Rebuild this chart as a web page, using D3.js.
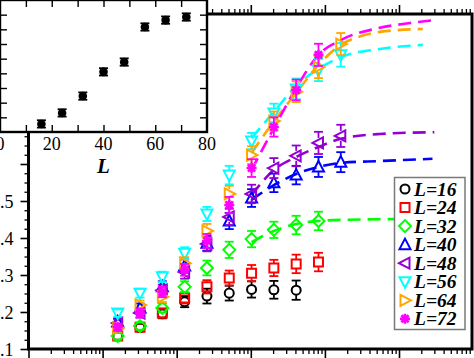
<!DOCTYPE html>
<html><head><meta charset="utf-8">
<script src="https://cdn.jsdelivr.net/npm/d3@7"></script>
<style>body{margin:0;background:#fff}svg{display:block}</style>
</head><body>
<svg id="c" width="474" height="358"></svg>
<script>
// ---------------- data ----------------
const times = [16, 32, 64, 128, 256, 512, 1024, 2048, 4096, 8192, 16384];
const labels = ["L=16", "L=24", "L=32", "L=40", "L=48", "L=56", "L=64", "L=72"];

const v16 = [0.135, 0.158, 0.195, 0.228, 0.243, 0.251, 0.261, 0.260, 0.259];
const e16 = [0.010, 0.010, 0.012, 0.015, 0.020, 0.020, 0.022, 0.024, 0.026];
const v24 = [0.135, 0.159, 0.197, 0.238, 0.268, 0.292, 0.305, 0.319, 0.330, 0.335];
const e24 = [0.010, 0.010, 0.012, 0.015, 0.018, 0.020, 0.022, 0.022, 0.025, 0.025];
const v32 = [0.135, 0.162, 0.211, 0.268, 0.319, 0.368, 0.397, 0.422, 0.435, 0.446];
const e32 = [0.010, 0.010, 0.012, 0.015, 0.020, 0.022, 0.022, 0.022, 0.025, 0.025];
const v40 = [0.173, 0.211, 0.268, 0.324, 0.386, 0.446, 0.508, 0.549, 0.570, 0.592, 0.605];
const e40 = [0.010, 0.012, 0.015, 0.018, 0.020, 0.022, 0.024, 0.025, 0.025, 0.027, 0.027];
const v48 = [0.170, 0.197, 0.259, 0.308, 0.384, 0.457, 0.519, 0.589, 0.622, 0.657, 0.676];
const e48 = [0.010, 0.012, 0.015, 0.018, 0.020, 0.022, 0.025, 0.027, 0.028, 0.030, 0.030];
const v56 = [0.197, 0.251, 0.295, 0.359, 0.465, 0.570, 0.662, 0.738, 0.803, 0.854, 0.895];
const e56 = [0.010, 0.012, 0.014, 0.016, 0.019, 0.025, 0.022, 0.025, 0.028, 0.030, 0.032];
const v64 = [0.157, 0.219, 0.241, 0.332, 0.419, 0.519, 0.624, 0.716, 0.795, 0.862, 0.924];
const e64 = [0.010, 0.012, 0.014, 0.016, 0.019, 0.022, 0.024, 0.026, 0.028, 0.030, 0.030];
const v72 = [0.159, 0.197, 0.254, 0.314, 0.392, 0.489, 0.589, 0.700, 0.800, 0.895];
const e72 = [0.010, 0.012, 0.014, 0.016, 0.019, 0.022, 0.024, 0.026, 0.028, 0.030];

// dashed fit curves: [time, value]
const fit32 = [[1024,0.389],[2048,0.419],[4096,0.438],[8192,0.446],[16384,0.449],[80000,0.451],[283000,0.452]];
const fit40 = [[1024,0.503],[2048,0.543],[4096,0.573],[8192,0.592],[16384,0.603],[55000,0.608],[283000,0.614]];
const fit48 = [[1024,0.516],[2048,0.584],[4096,0.619],[8192,0.646],[16384,0.668],[55000,0.681],[300000,0.686]];
const fit56 = [[1024,0.670],[2048,0.741],[4096,0.811],[8192,0.857],[16384,0.889],[55000,0.911],[210000,0.922]];
const fit64 = [[1024,0.630],[2048,0.715],[4096,0.792],[8192,0.868],[16384,0.922],[30000,0.945],[55000,0.957],[210000,0.965]];
const fit72 = [[1024,0.584],[2048,0.697],[4096,0.805],[8192,0.895],[16384,0.935],[55000,0.968],[140000,0.981],[300000,0.989]];

const yTickLabels = [0.1, 0.2, 0.3, 0.4, 0.5];
const yTicksNoLabel = [0.6, 0.7, 0.8, 0.9, 1.0];

// inset
const insetL = [16, 24, 32, 40, 48, 56, 64, 72];
const insetV = [0.055, 0.130, 0.245, 0.410, 0.477, 0.716, 0.763, 0.784];
const insetE = [0.025, 0.025, 0.025, 0.025, 0.025, 0.025, 0.025, 0.025];
const insetXTicks = [0, 20, 40, 60, 80];

// ---------------- styles ----------------
const styles = [
  {color:"#000000", shape:"circle"},
  {color:"#ff0000", shape:"square"},
  {color:"#00ff00", shape:"diamond"},
  {color:"#0000ff", shape:"triUp"},
  {color:"#9400d3", shape:"triLeft"},
  {color:"#00ffff", shape:"triDown"},
  {color:"#ffa500", shape:"triRight"},
  {color:"#ff00ff", shape:"star"}
];
const vals = [v16, v24, v32, v40, v48, v56, v64, v72];
const errs = [e16, e24, e32, e40, e48, e56, e64, e72];
const fits = [null, null, fit32, fit40, fit48, fit56, fit64, fit72];

const series = labels.map((lab, i) => ({
  label: lab, color: styles[i].color, shape: styles[i].shape,
  pts: vals[i].map((v, j) => ({t: times[j], v, e: errs[i][j]})),
  fit: fits[i]
}));

// ---------------- layout ----------------
const svg = d3.select("#c");
svg.append("rect").attr("width",474).attr("height",358).attr("fill","#fff");
const L = 28.5, R = 472, T = 14, B = 349;
const x = d3.scaleLog().domain([1, 1e6]).range([L, L + 6*74.1]);
const y = d3.scaleLinear().domain([0.1, 1.0]).range([B, B - 0.9*370]);
const serif = "'Liberation Serif','DejaVu Serif',serif";

// ticks on main axes
const majorX = d3.range(0, 7).map(k => Math.pow(10, k));
const minorX = [];
for (let k = 0; k < 6; k++) for (let m = 2; m <= 9; m++) { const v = m*Math.pow(10,k); if (x(v) < R) minorX.push(v); }
const minorY = d3.range(0, 37).map(k => 0.1 + k*0.025).filter(v => Math.abs((v*40) % 4) > 0.01 && Math.abs((v*40)%4 - 4) > 0.01);

function styleAxis(g, w) {
  g.select(".domain").remove();
  g.selectAll("line").attr("stroke","#000").attr("stroke-width", w);
}
svg.append("g").attr("transform",`translate(0,${T})`)
  .call(d3.axisTop(x).tickValues(majorX.filter(v=>x(v)<=R)).tickSize(9).tickFormat(""))
  .call(g=>styleAxis(g,1.6));
svg.append("g").attr("transform",`translate(0,${T})`)
  .call(d3.axisTop(x).tickValues(minorX).tickSize(5).tickFormat(""))
  .call(g=>styleAxis(g,1.3));
svg.append("g").attr("transform",`translate(0,${B})`)
  .call(d3.axisBottom(x).tickValues(majorX.filter(v=>x(v)<=R)).tickSize(10).tickFormat(""))
  .call(g=>styleAxis(g,1.6));
svg.append("g").attr("transform",`translate(0,${B})`)
  .call(d3.axisBottom(x).tickValues(minorX).tickSize(5).tickFormat(""))
  .call(g=>styleAxis(g,1.3));

const yl = svg.append("g").attr("transform",`translate(${L},0)`)
  .call(d3.axisLeft(y).tickValues(yTickLabels).tickSize(8).tickPadding(7).tickFormat(d3.format(".1f")))
  .call(g=>styleAxis(g,1.6));
yl.selectAll("text").attr("font-family", serif).attr("font-size", 18).attr("fill","#000").attr("dy","0.34em");
svg.append("g").attr("transform",`translate(${L},0)`)
  .call(d3.axisLeft(y).tickValues(yTicksNoLabel).tickSize(8).tickFormat(""))
  .call(g=>styleAxis(g,1.6));
svg.append("g").attr("transform",`translate(${L},0)`)
  .call(d3.axisLeft(y).tickValues(minorY).tickSize(4).tickFormat(""))
  .call(g=>styleAxis(g,1.3));

// frame
svg.append("rect").attr("x",L).attr("y",T).attr("width",R-L).attr("height",B-T)
  .attr("fill","none").attr("stroke","#000").attr("stroke-width",3);

// ---------------- markers ----------------
function markerPath(shape) {
  switch (shape) {
    case "circle": return d3.symbol(d3.symbolCircle, 64)();
    case "square": return "M-4.5,-4.5H4.5V4.5H-4.5Z";
    case "diamond": return "M0,-6L6,0L0,6L-6,0Z";
    case "triUp": return "M0,-6L5.5,4.5L-5.5,4.5Z";
    case "triDown": return "M0,6L5.5,-4.5L-5.5,-4.5Z";
    case "triLeft": return "M-6,0L4.5,-5.5L4.5,5.5Z";
    case "triRight": return "M6,0L-4.5,-5.5L-4.5,5.5Z";
    case "star": return "M-5,0H5M0,-5V5M-3.6,-3.6L3.6,3.6M-3.6,3.6L3.6,-3.6";
  }
}
function drawMarker(g, shape, color, cx, cy) {
  g.append("path").attr("d", markerPath(shape))
    .attr("transform",`translate(${cx},${cy})`)
    .attr("stroke", color).attr("stroke-width", shape==="star"?2.6:2)
    .attr("fill", "none").attr("stroke-linejoin","miter");
}

// fits
const line = d3.line().x(d=>x(d[0])).y(d=>y(d[1])).curve(d3.curveMonotoneX);
const gFit = svg.append("g");
series.forEach(s => {
  if (!s.fit) return;
  gFit.append("path").attr("d", line(s.fit)).attr("fill","none")
    .attr("stroke", s.color).attr("stroke-width", 2.6).attr("stroke-dasharray","13,7");
});

// points with error bars
const gPts = svg.append("g");
series.forEach(s => {
  s.pts.forEach(p => {
    const cx = x(p.t), cy = y(p.v), yt = y(p.v + p.e), yb = y(p.v - p.e), r = 5;
    const g = gPts.append("g");
    if (cy - yt > r) g.append("line").attr("x1",cx).attr("x2",cx).attr("y1",yt).attr("y2",cy-r);
    if (yb - cy > r) g.append("line").attr("x1",cx).attr("x2",cx).attr("y1",cy+r).attr("y2",yb);
    g.append("line").attr("x1",cx-4.5).attr("x2",cx+4.5).attr("y1",yt).attr("y2",yt);
    g.append("line").attr("x1",cx-4.5).attr("x2",cx+4.5).attr("y1",yb).attr("y2",yb);
    g.selectAll("line").attr("stroke", s.color).attr("stroke-width", 1.8);
    drawMarker(g, s.shape, s.color, cx, cy);
  });
});

// legend
const lg = svg.append("g");
lg.append("rect").attr("x",394.5).attr("y",177.5).attr("width",70.5).attr("height",152)
  .attr("fill","#fff").attr("stroke","#7a7a7a").attr("stroke-width",1.5);
series.forEach((s, i) => {
  const cy = 189 + i*18.55;
  drawMarker(lg, s.shape, s.color, 405, cy);
  lg.append("text").attr("x",414).attr("y",cy+6.5).text(s.label)
    .attr("font-family", serif).attr("font-size",19.5).attr("font-weight","bold")
    .attr("font-style","italic").attr("fill","#000");
});

// ---------------- inset ----------------
const xi = d3.scaleLinear().domain([0, 80]).range([0, 207]);
const yi = d3.scaleLinear().domain([0, 0.9]).range([132, 0]);
const gi = svg.append("g");
gi.append("rect").attr("x",0).attr("y",0).attr("width",207).attr("height",132).attr("fill","#fff");
function styleIn(g){ g.select(".domain").remove(); g.selectAll("line").attr("stroke","#000").attr("stroke-width",1.4); }
const xt = d3.range(10, 80, 10), yt = d3.range(1, 9).map(k => k*0.1);
gi.append("g").attr("transform","translate(0,132)").call(d3.axisTop(xi).tickValues(xt).tickSize(7).tickFormat("")).call(styleIn);
gi.append("g").attr("transform","translate(0,0)").call(d3.axisBottom(xi).tickValues(xt).tickSize(7).tickFormat("")).call(styleIn);
gi.append("g").attr("transform","translate(0,0)").call(d3.axisRight(yi).tickValues(yt).tickSize(7).tickFormat("")).call(styleIn);
gi.append("g").attr("transform","translate(207,0)").call(d3.axisLeft(yi).tickValues(yt).tickSize(7).tickFormat("")).call(styleIn);
gi.append("rect").attr("x",0).attr("y",0).attr("width",207).attr("height",132)
  .attr("fill","none").attr("stroke","#000").attr("stroke-width",2.4);
gi.selectAll(null).data(insetXTicks).join("text")
  .attr("x", d=>xi(d)).attr("y",150).attr("text-anchor","middle").text(d=>d)
  .attr("font-family", serif).attr("font-size",18).attr("fill","#000");
gi.append("text").attr("x",xi(40)).attr("y",173).attr("text-anchor","middle").text("L")
  .attr("font-family", serif).attr("font-size",21).attr("font-weight","bold").attr("font-style","italic");
insetL.forEach((l, i) => {
  const cx = xi(l), cy = yi(insetV[i]), t = yi(insetV[i]+insetE[i]), b = yi(insetV[i]-insetE[i]);
  gi.append("line").attr("x1",cx).attr("x2",cx).attr("y1",t).attr("y2",b).attr("stroke","#000").attr("stroke-width",1.8);
  [t,b].forEach(yy => gi.append("line").attr("x1",cx-4.5).attr("x2",cx+4.5).attr("y1",yy).attr("y2",yy).attr("stroke","#000").attr("stroke-width",1.8));
  gi.append("circle").attr("cx",cx).attr("cy",cy).attr("r",4.3).attr("fill","#000");
});
</script>
</body></html>
